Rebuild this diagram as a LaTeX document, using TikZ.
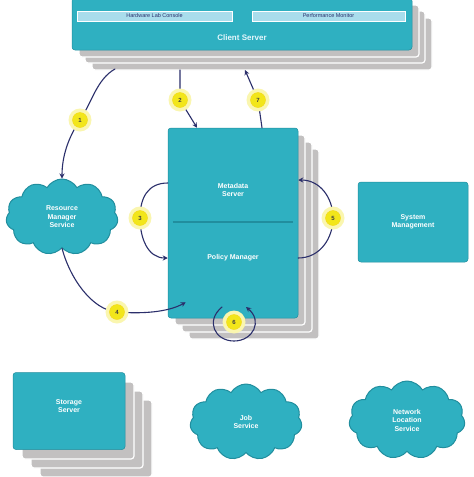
\documentclass[tikz,border=0pt]{standalone}
\usepackage{fontspec}
\setmainfont{Liberation Sans}
\usetikzlibrary{shapes.symbols,arrows.meta}
\definecolor{teal1}{HTML}{2FB0C1}
\definecolor{tealdk}{HTML}{218E9E}
\definecolor{shadegray}{HTML}{C2C0C0}
\definecolor{navy}{HTML}{2B2F6B}
\definecolor{barblue}{HTML}{A9DDEC}
\definecolor{badgey}{HTML}{F2E61A}
\begin{document}
\begin{tikzpicture}[x=1pt,y=-1pt,
  box/.style={rectangle, rounded corners=3pt, fill=teal1, draw=tealdk, line width=0.5pt, inner sep=0pt},
  shadowst/.style={fill=shadegray, draw=white, line width=1.2pt, rounded corners=3pt},
  cloudst/.style={cloud, cloud puffs=11, cloud puff arc=120, aspect=1.5, fill=teal1, draw=tealdk, line width=1pt, inner sep=0pt},
  lbl/.style={text=white, font=\fontsize{7}{8.5}\selectfont\bfseries, align=center},
  barst/.style={rectangle, fill=barblue, draw=white, line width=0.4pt, inner sep=0pt, font=\fontsize{5.5}{6}\selectfont, text=navy},
  arr/.style={draw=navy, line width=1.1pt, line cap=round, -{Stealth[length=5pt,width=5pt]}},
  badge/.style={circle, fill=badgey, draw=badgey!85!orange, line width=0.4pt, minimum size=15pt, inner sep=0pt, font=\fontsize{6}{6}\selectfont\bfseries, text=black!75},
  glow/.style={fill=badgey!35, draw=none}
]
\useasboundingbox (0,0) rectangle (474,477);
\fill[white] (0,0) rectangle (474,477);

% ---------- shadows ----------
\foreach \d in {20,13,7} \draw[shadowst] (72+\d,-2+\d) rectangle (412+\d,50+\d);
\foreach \d in {21,14,7} \draw[shadowst] (168+\d,128+\d) rectangle (298+\d,318+\d);
\foreach \d in {27,18,9} \draw[shadowst] (13+\d,373+\d) rectangle (125+\d,450+\d);

% ---------- Client Server ----------
\node[box, minimum width=340pt, minimum height=52pt] (cs) at (242,24) {};
\node[barst, minimum width=155pt, minimum height=10pt] (bar1) at (154.5,16) {Hardware Lab Console};
\node[barst, minimum width=153pt, minimum height=10pt] (bar2) at (328.5,16) {Performance Monitor};
\node[lbl, font=\fontsize{8}{9}\selectfont\bfseries, text=white!90!cyan] (cst) at (242,38) {Client Server};
\coordinate (csA) at (115,69);
\coordinate (csB) at (180,70);
\coordinate (csC) at (245,70);

% ---------- Metadata / Policy box ----------
\node[box, minimum width=130pt, minimum height=190pt] (ps) at (233,223) {};
\draw[tealdk, line width=1.2pt] ([xshift=5pt,yshift=1pt]ps.west) -- ([xshift=-5pt,yshift=1pt]ps.east);
\node[lbl] (mdt) at (233,190) {Metadata\\Server};
\node[lbl] (pmt) at (233,258) {Policy Manager};

% ---------- other boxes ----------
\node[box, minimum width=110pt, minimum height=80pt] (sm) at (413,222) {};
\node[lbl] (smt) at (sm.center) {System\\Management};
\node[box, minimum width=112pt, minimum height=77pt] (ss) at (69,411) {};
\node[lbl] (sst) at (69,406) {Storage\\Server};

% ---------- clouds ----------
\node[cloudst, minimum width=112pt, minimum height=76pt] (rms) at (62,217) {};
\node[lbl] (rmst) at (rms.center) {Resource\\Manager\\Service};
\node[cloudst, minimum width=112pt, minimum height=76pt] (js) at (246,422) {};
\node[lbl] (jst) at (js.center) {Job\\Service};
\node[cloudst, minimum width=116pt, minimum height=78pt] (nls) at (407,420) {};
\node[lbl] (nlst) at (nls.center) {Network\\Location\\Service};

% ---------- badge positions ----------
\coordinate (p1) at (80,120);
\coordinate (p2) at (180,100);
\coordinate (p7) at (258,100);
\coordinate (p3) at (140,218);
\coordinate (p5) at (333,218);
\coordinate (p4) at (117,312);
\coordinate (p6) at (234,322);

% ---------- connectors ----------
\draw[arr] (csA) .. controls +(-18,10) and +(12,-18) .. (p1) .. controls +(-12,18) and +(0,-22) .. (rms.north);
\draw[arr] (csB) -- (p2) -- ([xshift=-36pt]ps.north);
\draw[arr] ([xshift=29pt]ps.north) -- (p7) -- (csC);
\draw[arr] ([yshift=40pt]ps.west) .. controls +(-20,0) and +(0,-20) .. (p3) .. controls +(0,20) and +(-20,0) .. ([yshift=-35pt]ps.west);
\draw[arr] ([yshift=-35pt]ps.east) .. controls +(22,0) and +(0,20) .. (p5) .. controls +(0,-20) and +(22,0) .. ([yshift=43pt]ps.east);
\draw[arr] (rms.south) .. controls +(8,30) and +(-25,-2) .. (p4) .. controls +(25,2) and +(-18,10) .. ([xshift=18pt,yshift=16pt]ps.south west);
\draw[arr] ([shift={(-12pt,15pt)}]p6) .. controls +(-17,14) and +(-19,0) .. ([yshift=-19pt]p6) .. controls +(19,0) and +(17,14) .. ([shift={(12pt,15pt)}]p6);

% ---------- badges ----------
\foreach \p in {p1,p2,p7,p3,p5,p4,p6} \fill[glow] (\p) circle (11.5pt);
\node[badge] (b1) at (p1) {1};
\node[badge] (b2) at (p2) {2};
\node[badge] (b7) at (p7) {7};
\node[badge] (b3) at (p3) {3};
\node[badge] (b5) at (p5) {5};
\node[badge] (b4) at (p4) {4};
\node[badge] (b6) at (p6) {6};
\end{tikzpicture}
\end{document}
